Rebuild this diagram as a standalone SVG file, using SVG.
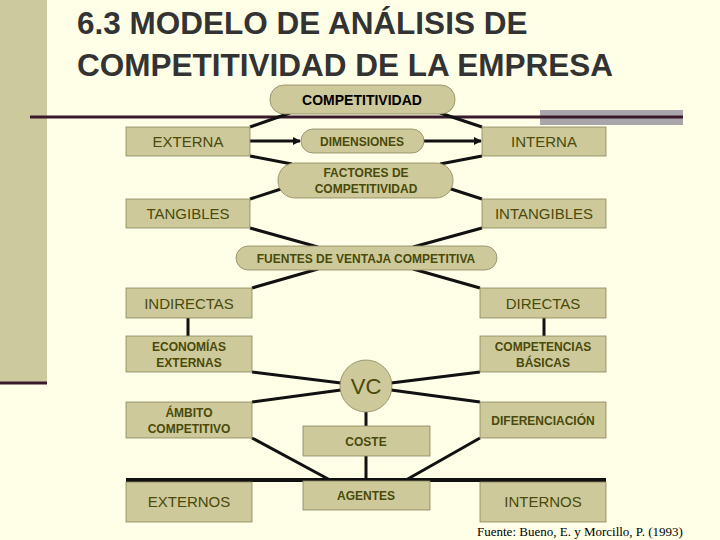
<svg xmlns="http://www.w3.org/2000/svg" width="720" height="540" viewBox="0 0 720 540">
<style>
.b{fill:#CDC99A;stroke:#8A865E;stroke-width:0.8}
.t{font-family:"Liberation Sans",Arial,sans-serif;fill:#4A4A0A;text-anchor:middle}
.k{font-weight:bold}
.c{stroke:#111;stroke-width:3;fill:none}
</style>
<defs><marker id="a" markerWidth="8" markerHeight="8" refX="7" refY="4" orient="auto" markerUnits="userSpaceOnUse"><path d="M0,0 L8,4 L0,8 z" fill="#111"/></marker></defs>
<rect width="720" height="540" fill="#FFFFE8"/>
<rect x="0" y="0" width="47" height="383" fill="#CCCA9C"/>
<line x1="0" y1="383" x2="47" y2="383" stroke="#3A1A2A" stroke-width="3"/>
<rect x="540" y="110" width="143" height="15" fill="#A8A6A8"/>
<line x1="30" y1="117" x2="683" y2="117" stroke="#3A1A2A" stroke-width="3"/>
<text x="77" y="34" font-family="Liberation Sans,Arial,sans-serif" font-size="31.5" font-weight="bold" fill="#333">6.3 MODELO DE ANÁLISIS DE</text>
<text x="77" y="76" font-family="Liberation Sans,Arial,sans-serif" font-size="31.5" font-weight="bold" fill="#333">COMPETITIVIDAD DE LA EMPRESA</text>
<g id="connectors">
<path class="c" d="M250,127 L290,113 M482,127 L440,113 M250,156 L292,164 M482,156 L440,164 M250,199 L284,188 M482,199 L448,188 M250,228 L318,247 M482,228 L413,247 M318,269 L252,288 M413,269 L480,288 M188,318 V336 M544,318 V336 M252,372 L341,383 M252,402 L341,390 M480,372 L391,383 M480,402 L391,390 M366,412 V426 M366,456 V480 M252,438 L330,480 M480,438 L406,480"/>
<line x1="126" y1="480" x2="606" y2="480" stroke="#111" stroke-width="4"/>
<line class="c" x1="250" y1="141" x2="300" y2="141" stroke-width="2" marker-end="url(#a)"/>
<line class="c" x1="424" y1="141" x2="481" y2="141" stroke-width="2" marker-end="url(#a)"/>
</g>
<g id="competitividad"><rect class="b" x="270" y="85" width="185" height="29" rx="14" stroke="#333"/><text class="t k" x="362" y="105" font-size="14" style="fill:#000">COMPETITIVIDAD</text></g>
<g id="externa"><rect class="b" x="126" y="127" width="124" height="29"/><text class="t" x="188" y="147" font-size="15">EXTERNA</text></g>
<g id="interna"><rect class="b" x="482" y="127" width="124" height="29"/><text class="t" x="544" y="147" font-size="15">INTERNA</text></g>
<g id="dimensiones"><rect class="b" x="301" y="129" width="123" height="24" rx="12" stroke="#333"/><text class="t k" x="362" y="146" font-size="12">DIMENSIONES</text></g>
<g id="factores"><rect class="b" x="278" y="163" width="175" height="35" rx="17" stroke="#333"/><text class="t k" x="366" y="177" font-size="12">FACTORES DE</text><text class="t k" x="366" y="193" font-size="12">COMPETITIVIDAD</text></g>
<g id="tangibles"><rect class="b" x="126" y="199" width="124" height="29"/><text class="t" x="188" y="219" font-size="15">TANGIBLES</text></g>
<g id="intangibles"><rect class="b" x="482" y="199" width="124" height="29"/><text class="t" x="544" y="219" font-size="15">INTANGIBLES</text></g>
<g id="fuentes"><rect class="b" x="236" y="246" width="261" height="24" rx="12" stroke="#333"/><text class="t k" x="366" y="263" font-size="12">FUENTES DE VENTAJA COMPETITIVA</text></g>
<g id="indirectas"><rect class="b" x="126" y="288" width="126" height="30"/><text class="t" x="189" y="309" font-size="15">INDIRECTAS</text></g>
<g id="directas"><rect class="b" x="480" y="288" width="126" height="30"/><text class="t" x="543" y="309" font-size="15">DIRECTAS</text></g>
<g id="economias"><rect class="b" x="126" y="336" width="126" height="36"/><text class="t k" x="189" y="351" font-size="12">ECONOMÍAS</text><text class="t k" x="189" y="367" font-size="12">EXTERNAS</text></g>
<g id="competencias"><rect class="b" x="480" y="336" width="126" height="36"/><text class="t k" x="543" y="351" font-size="12">COMPETENCIAS</text><text class="t k" x="543" y="367" font-size="12">BÁSICAS</text></g>
<g id="vc"><circle cx="366" cy="386" r="26" class="b" stroke="#555"/><text class="t" x="366" y="394" font-size="22">VC</text></g>
<g id="ambito"><rect class="b" x="126" y="402" width="126" height="36"/><text class="t k" x="189" y="417" font-size="12">ÁMBITO</text><text class="t k" x="189" y="433" font-size="12">COMPETITIVO</text></g>
<g id="diferenciacion"><rect class="b" x="480" y="402" width="126" height="36"/><text class="t k" x="543" y="425" font-size="12">DIFERENCIACIÓN</text></g>
<g id="coste"><rect class="b" x="303" y="426" width="127" height="30"/><text class="t k" x="366" y="446" font-size="12">COSTE</text></g>
<g id="externos"><rect class="b" x="126" y="482" width="126" height="40"/><text class="t" x="189" y="507" font-size="15">EXTERNOS</text></g>
<g id="agentes"><rect class="b" x="303" y="481" width="127" height="29"/><text class="t k" x="366" y="500" font-size="12">AGENTES</text></g>
<g id="internos"><rect class="b" x="480" y="482" width="126" height="40"/><text class="t" x="543" y="507" font-size="15">INTERNOS</text></g>
<text x="477" y="536" font-family="Liberation Serif,serif" font-size="13" fill="#000">Fuente: Bueno, E. y Morcillo, P. (1993)</text>
</svg>
